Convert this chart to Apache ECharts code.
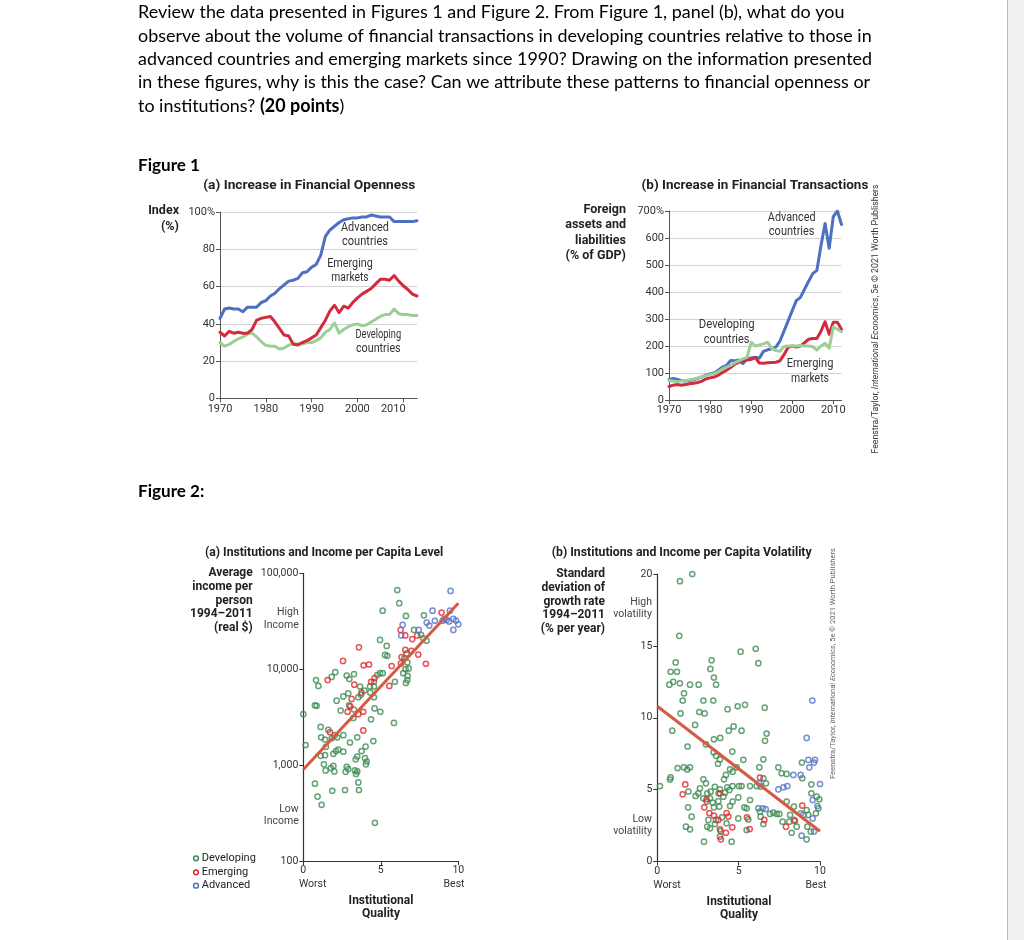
<!DOCTYPE html>
<html><head><meta charset="utf-8">
<script src="https://cdn.jsdelivr.net/npm/echarts@6/dist/echarts.min.js"></script>
<style>html,body{margin:0;padding:0;background:#fff}#c{width:1024px;height:940px}</style>
</head><body><div id="c"></div>
<script>
// ---------------- DATA ----------------
const decadeTicks = [1970, 1980, 1990, 2000, 2010];
const years1a = [1970,1971,1972,1973,1974,1975,1976,1977,1978,1979,1980,1981,1982,1983,1984,1985,1986,1987,1988,1989,1990,1991,1992,1993,1994,1995,1996,1997,1998,1999,2000,2001,2002,2003,2004,2005,2006,2007,2008,2009,2010,2011,2012,2013];
const openAdvanced = [43,48,48.5,48,48,46.5,49,49,49,51.5, 52.5,55,56.5,59,61,63,63.5,64.5,67.5,68, 70.5,72,77,87,90.5,92.5,94.5,96,96.5,97, 97,97.5,97.5,98.5,98,97.5,97.5,97.5,95,95, 95,95,95,95.5];
const openEmerging = [35.5,33.5,36,35,35.5,35,35,37,42,43, 43.5,44,41,37.5,34,33.5,29,28.7,30,31, 32.5,34,38,42,47,50,46,49.5,48.5,51.5, 54,56,57.5,59,61.5,64,64,63.5,66,63, 60.5,58.5,56,55];
const openDeveloping = [30,28,29,30.5,32,33,34.5,35,33,30.5, 28.5,28,28,26.5,27,28.5,29.5,29.2,29.2,30, 30,31,32.5,35.5,37,40.5,35,37,38.5,39.5, 40,39,39.5,41,42.5,44,45,45,48,45.5, 45,45,44.5,44.5];

const years1b = [1970,1971,1972,1973,1974,1975,1976,1977,1978,1979,1980,1981,1982,1983,1984,1985,1986,1987,1988,1989,1990,1991,1992,1993,1994,1995,1996,1997,1998,1999,2000,2001,2002,2003,2004,2005,2006,2007,2008,2009,2010,2011,2012];
const transAdvanced = [76,80,76,72,70,72,75,80,86,92, 97,100,110,122,128,146,145,148,135,152, 156,158,155,180,186,190,196,218,255,293, 331,368,380,410,440,468,480,571,654,562, 679,700,650];
const transEmerging = [50,55,57,55,57,60,62,65,70,78, 82,85,92,102,110,120,133,140,145,148, 150,157,137,136,138,139,140,145,168,195, 200,196,200,212,225,228,228,255,290,243, 288,288,262];
const transDeveloping = [72,70,68,70,72,75,78,82,86,90, 95,97,105,115,122,128,138,145,152,158, 214,200,204,208,214,192,183,180,198,200, 200,200,202,200,200,198,185,200,210,192, 270,262,253];

// Figure 2 (a): [institutional quality, income per person (real $)]
const levelDeveloping = [[6.06,67000],[6.19,48800],[5.12,40800],[6.62,35900],[7.78,36500],
 [7.14,25700],[7.59,22800],[7.74,21000],[7.96,19800],[4.95,20200],[5.38,17500],
 [5.27,14100],[5.42,13800],[6.67,14600],[6.52,13000],[6.71,11800],[6.60,10000],[6.80,10200],[6.45,9100],[6.73,8500],[6.71,7700],[6.62,7200],
 [2.06,9300],[1.83,8300],[0.82,7700],[0.97,6700],[2.80,8600],[2.97,7900],[3.27,8900],[4.77,8700],[4.95,9100],[5.12,9100],
 [4.56,7400],[4.30,6600],[4.56,6600],[3.66,6600],[5.91,7400],[3.94,6000],[3.72,5400],[2.90,5600],[2.58,5200],[4.56,5100],[4.32,5700],[3.55,5100],
 [2.15,4700],[0.75,4200],[0.86,4150],[2.95,4200],[2.41,3700],[3.27,3800],[4.60,3900],[4.97,3600],[3.23,3100],[0.0,3400],[4.37,3000],[5.85,2750],
 [1.12,2500],[1.61,2330],[1.15,1950],[1.40,1850],[1.83,1900],[2.19,1950],[1.46,1550],[0.15,1620],[2.04,2050],[2.58,2050],[3.01,1720],[3.48,1950],[4.52,1780],[4.02,1560],
 [3.76,1400],[2.11,1400],[2.26,1450],[2.58,1380],[1.12,1250],[1.40,1270],[1.94,1310],[3.48,1230],[3.38,1150],[3.98,1180],[4.09,1090],[4.04,1020],
 [1.33,1020],[1.94,980],[1.78,930],[1.44,880],[2.00,860],[2.80,960],[2.90,910],[2.73,850],[3.33,880],[3.48,860],[3.40,810],
 [3.55,660],[0.75,640],[1.87,540],[2.69,550],[3.59,550],[0.92,470],[1.18,385],[4.62,250]];
const levelEmerging = [[8.92,38900],[6.28,25700],[6.58,22500],[7.03,20600],[7.35,22500],[3.59,16900],[6.58,15900],[6.97,15500],[7.42,14200],[6.34,13400],
 [7.91,11400],[5.70,10800],[6.30,11500],[4.24,11200],[3.89,11000],[2.56,12200],[1.57,7700],[4.37,7400],[4.60,8100],[3.29,6900],[5.55,6700],
 [3.76,5700],[3.12,4900],[3.03,4100],[2.86,3600],[3.55,3400],[3.87,3600],[1.72,2200],[3.87,2300]];
const levelAdvanced = [[6.41,29000],[6.32,22500],[7.44,25700],[7.96,30700],[8.13,28500],[8.49,32000],[8.99,32000],[9.25,32700],[9.68,33400],
 [9.85,32200],[10.0,29400],[9.68,25700],[8.34,40800],[9.46,40800],[9.5,65500],[9.1,33500],[9.4,31500]];
const levelFit = [[0, 900], [10, 48700]];

// Figure 2 (b): [institutional quality, std. dev. of growth rate (% per year)]
const volDeveloping = [[2.15,20.0],[1.39,19.5],[1.35,15.7],[1.13,13.85],[0.82,13.2],[1.21,13.2],[0.74,12.3],[0.98,12.5],[1.39,12.4],[1.64,11.7],[1.56,11.2],
 [2.01,12.3],[2.54,12.3],[1.43,10.3],[0.92,9.1],[2.32,9.5],[2.58,10.4],[2.91,10.3],[2.83,11.2],[3.34,14.0],[3.26,13.4],[3.48,12.8],[3.61,12.3],[3.44,11.2],
 [5.12,14.6],[6.05,14.8],[6.21,13.8],[4.32,10.6],[4.94,10.8],[5.39,10.9],[6.60,10.7],[4.39,9.1],[4.69,9.4],[5.18,9.1],[6.72,8.9],[3.48,8.5],[3.87,8.6],
 [1.86,8.0],[4.61,7.65],[3.46,7.6],[3.61,7.35],[3.85,7.1],[3.73,6.8],[2.99,8.15],[6.62,8.4],[1.25,6.5],[1.64,6.55],[1.84,6.4],[2.01,6.55],
 [0.78,5.7],[0.82,5.85],[0.16,5.25],[1.91,4.87],[1.89,3.77],[2.11,3.12],[1.76,2.42],[2.01,2.24],[2.87,1.38],[2.83,5.72],[2.99,5.44],[2.62,5.09],
 [2.36,4.56],[2.52,4.74],[2.83,4.4],[3.07,4.74],[3.24,4.4],[3.28,4.86],[3.54,5.2],[3.85,5.02],[3.77,4.74],[3.03,4.17],[3.40,4.1],[3.75,4.2],
 [3.48,3.77],[3.81,3.82],[4.06,4.51],[4.16,4.79],[4.30,5.16],[4.43,4.98],[4.63,5.25],[4.47,3.86],[4.63,4.17],[4.98,4.46],[5.02,5.25],[4.10,5.72],
 [4.22,6.02],[4.47,6.41],[4.63,6.25],[4.88,6.55],[5.18,5.25],[5.49,3.70],[5.35,3.77],[5.70,4.28],[5.59,2.93],[4.98,3.0],[4.26,2.66],[3.98,3.07],
 [3.61,2.89],[3.54,2.61],[3.14,2.89],[3.07,2.42],[3.24,2.31],[3.89,2.12],[4.57,1.38],[5.49,2.19],[6.35,5.21],[6.52,5.79],[6.68,5.44],[6.27,6.55],
 [6.11,5.25],[5.70,5.25],[6.21,3.70],[6.31,3.47],[6.35,3.12],[6.52,2.61],[6.93,3.31],[7.13,3.4],[7.34,3.31],[7.50,3.31],[7.70,2.77],[8.11,2.77],
 [8.26,2.0],[8.40,2.89],[8.83,3.35],[8.40,3.82],[7.95,4.17],[7.44,6.55],[7.64,6.14],[7.95,6.09],[8.91,5.79],[8.89,6.88],[9.47,5.37],[9.47,4.74],
 [9.80,4.51],[9.18,3.58],[9.28,3.24],[9.75,3.35],[9.90,3.70],[9.22,2.42],[9.18,1.54],[9.43,2.08],[5.29,7.07],[6.52,7.11],[8.16,3.24],[8.57,2.42],
 [9.96,4.33],[3.85,1.73]];
const volEmerging = [[1.72,5.36],[1.56,4.67],[3.03,4.33],[2.89,3.77],[3.20,3.37],[3.48,3.2],[3.85,4.74],[3.85,2.24],[3.91,1.54],[4.26,3.37],[4.37,3.13],
 [4.22,2.0],[4.61,2.38],[5.51,3.07],[5.68,2.26],[6.31,5.84],[6.58,2.89],[7.91,2.42],[8.46,2.82],[8.91,3.89],[3.75,2.89]];
const volAdvanced = [[9.53,11.2],[9.18,8.6],[9.28,7.07],[9.69,7.07],[9.34,6.55],[9.63,6.88],[8.36,6.02],[8.81,6.02],[7.44,5.02],[7.75,5.16],[7.99,5.25],
 [6.27,5.44],[6.48,3.70],[6.66,3.65],[9.55,4.28],[10.0,5.39],[8.97,3.24],[9.55,3.00],[9.84,3.86],[8.87,1.80],[9.63,2.08]];
const volFit = [[0, 10.8], [10, 2.1]];

// ---------------- STYLE / HELPERS ----------------
const CF = 'Roboto, "Noto Sans", sans-serif';
const DF = 'Lato, "Open Sans", sans-serif';
const C_BLUE = '#4e70c2', C_RED = '#d42a3d', C_GREEN = '#9ccf95';
const S_GREEN = '#3f8b54', S_RED = '#e5262b', S_BLUE = '#5572c6', FIT = '#d45a43';

const mctx = document.createElement('canvas').getContext('2d');
function fontStr(size, family, weight, fstyle) { return (fstyle || 'normal') + ' ' + (weight || 'normal') + ' ' + size + 'px ' + family; }
function tw(text, size, family, weight, fstyle) { mctx.font = fontStr(size, family, weight, fstyle); return mctx.measureText(text).width; }
function T(x, y, text, o) {
  o = o || {};
  const size = o.size || 11, family = o.family || CF, weight = o.bold ? 'bold' : 'normal';
  let sx = o.sx || 1;
  if (o.w) sx = o.w / tw(o.plain || text, size, family, weight);
  const al = o.align || 'left', va = o.va || 'middle';
  const st = { text: text, fill: o.color || '#222', font: fontStr(size, family, weight), fontSize: size, fontFamily: family, fontWeight: weight,
    align: al, verticalAlign: va, textAlign: al, textVerticalAlign: va };
  if (o.rich) st.rich = o.rich;
  return { type: 'text', x: x, y: y, scaleX: sx, rotation: o.rot || 0, silent: true, z: 100, style: st };
}
function lines(x, ys, arr, o) { return arr.map((t, i) => T(x, ys[i], t, Object.assign({}, o, o.ws ? { w: o.ws[i] } : {}))); }

const els = [];
// page edge
els.push({ type: 'rect', shape: { x: 1007, y: 0, width: 17, height: 940 }, style: { fill: '#f0f0f0' }, silent: true });
els.push({ type: 'line', shape: { x1: 1007.5, y1: 0, x2: 1007.5, y2: 940 }, style: { stroke: '#b8b8b8', lineWidth: 1 }, silent: true });

// question text
const para = [
  'Review the data presented in Figures 1 and Figure 2. From Figure 1, panel (b), what do you',
  'observe about the volume of financial transactions in developing countries relative to those in',
  'advanced countries and emerging markets since 1990? Drawing on the information presented',
  'in these figures, why is this the case? Can we attribute these patterns to financial openness or'
];
const paraTargets = [710, 735, 738, 723];
const PS = 18;
let sSum = 0; para.forEach((t, i) => { sSum += paraTargets[i] / tw(t, PS, DF); });
const ps = sSum / para.length;
para.forEach((t, i) => els.push(T(138, 12.5 + 23.3 * i, t, { size: PS, family: DF, color: '#000', sx: ps })));
els.push(T(138, 12.5 + 23.3 * 4, 'to institutions? {b|(20 points})', { size: PS, family: DF, color: '#000', sx: ps,
  rich: { b: { font: fontStr(PS, DF, 'bold'), fontSize: PS, fontFamily: DF, fontWeight: 'bold', fill: '#000' } } }));

const figScale = 62 / tw('Figure 1', 17, DF, 'bold');
els.push(T(138, 165.7, 'Figure 1', { size: 17, family: DF, bold: true, color: '#000', sx: figScale }));
els.push(T(138, 492, 'Figure 2:', { size: 17, family: DF, bold: true, color: '#000', sx: figScale }));

// Figure 1 (a)
els.push(T(203.3, 186, '(a) Increase in Financial Openness', { size: 13, bold: true, w: 212 }));
els.push(...lines(179, [211, 227], ['Index', '(%)'], { size: 12.5, bold: true, align: 'right' }));
els.push(...lines(365, [228.3, 242], ['Advanced', 'countries'], { size: 12.5, align: 'center', color: '#333', ws: [48, 46] }));
els.push(...lines(350, [264, 278.3], ['Emerging', 'markets'], { size: 12.5, align: 'center', color: '#333', ws: [45.7, 37.3] }));
els.push(...lines(378.3, [335, 349.3], ['Developing', 'countries'], { size: 12.5, align: 'center', color: '#333', ws: [45.7, 44.7] }));

// Figure 1 (b)
els.push(T(868.3, 186, '(b) Increase in Financial Transactions', { size: 13, bold: true, w: 226.7, align: 'right' }));
els.push(...lines(626, [210, 225, 240.7, 256], ['Foreign', 'assets and', 'liabilities', '(% of GDP)'], { size: 12.5, bold: true, align: 'right' }));
els.push(...lines(791.7, [217.7, 232], ['Advanced', 'countries'], { size: 12.5, align: 'center', color: '#333', ws: [47.7, 45.7] }));
els.push(...lines(726.7, [325, 340], ['Developing', 'countries'], { size: 12.5, align: 'center', color: '#333', ws: [55.7, 45.7] }));
els.push(...lines(810, [364.3, 379], ['Emerging', 'markets'], { size: 12.5, align: 'center', color: '#333', ws: [46.7, 38] }));

const attrib = 'Feenstra/Taylor, {i|International Economics}, 5e \u00a9 2021 Worth Publishers';
const attribPlain = 'Feenstra/Taylor, International Economics, 5e \u00a9 2021 Worth Publishers';
els.push(T(876, 319, attrib, { size: 9.5, color: '#333', align: 'center', rot: Math.PI / 2, w: 272, plain: attribPlain,
  rich: { i: { font: fontStr(9.5, CF, 'normal', 'italic'), fontStyle: 'italic', fontSize: 9.5, fontFamily: CF, fill: '#333' } } }));

// Figure 2 (a)
els.push(T(205, 552.7, '(a) Institutions and Income per Capita Level', { size: 13, bold: true, w: 238.3 }));
els.push(...lines(252.7, [573.3, 587, 600.7, 614, 628.3], ['Average', 'income per', 'person', '1994\u20132011', '(real $)'], { size: 12, bold: true, align: 'right' }));
els.push(...lines(298.7, [612.7, 625], ['High', 'Income'], { size: 10.5, align: 'right', color: '#444' }));
els.push(...lines(298.7, [809, 821], ['Low', 'Income'], { size: 10.5, align: 'right', color: '#444' }));
els.push(T(312.7, 884.3, 'Worst', { size: 10.5, align: 'center', color: '#333' }));
els.push(T(454, 884.3, 'Best', { size: 10.5, align: 'center', color: '#333' }));
els.push(...lines(381, [900.7, 914.3], ['Institutional', 'Quality'], { size: 12, bold: true, align: 'center' }));
const legendItems = [['Developing', S_GREEN, 858.3], ['Emerging', S_RED, 872.3], ['Advanced', S_BLUE, 885.7]];
legendItems.forEach(it => {
  els.push({ type: 'circle', shape: { cx: 196, cy: it[2], r: 2.4 }, style: { fill: 'none', stroke: it[1], lineWidth: 1.5 }, silent: true, z: 100 });
  els.push(T(201.7, it[2], it[0], { size: 11, color: '#222' }));
});

// Figure 2 (b)
els.push(T(551.7, 552.7, '(b) Institutions and Income per Capita Volatility', { size: 13, bold: true, w: 260 }));
els.push(...lines(605, [574, 588, 602, 615, 629], ['Standard', 'deviation of', 'growth rate', '1994\u20132011', '(% per year)'], { size: 12, bold: true, align: 'right' }));
els.push(...lines(652, [602, 614.3], ['High', 'volatility'], { size: 10.5, align: 'right', color: '#444' }));
els.push(...lines(652, [819, 831], ['Low', 'volatility'], { size: 10.5, align: 'right', color: '#444' }));
els.push(T(667, 885, 'Worst', { size: 10.5, align: 'center', color: '#333' }));
els.push(T(816, 885, 'Best', { size: 10.5, align: 'center', color: '#333' }));
els.push(...lines(739, [901.7, 915], ['Institutional', 'Quality'], { size: 12, bold: true, align: 'center' }));
els.push(T(832.5, 663.5, attrib, { size: 8, color: '#666', align: 'center', rot: Math.PI / 2, w: 233, plain: attribPlain,
  rich: { i: { font: fontStr(8, CF, 'normal', 'italic'), fontStyle: 'italic', fontSize: 8, fontFamily: CF, fill: '#666' } } }));

// ---------------- AXES ----------------
const lab = (size, margin) => ({ fontSize: size, color: '#333', fontFamily: CF, margin: margin });
function yearAxis(gi, max, shift) {
  return { gridIndex: gi, type: 'value', min: 1970, max: max,
    axisLine: { show: true, lineStyle: { color: '#555', width: 1 } },
    axisTick: { show: true, customValues: decadeTicks, length: 4, lineStyle: { color: '#555' } },
    axisLabel: Object.assign(lab(11, 5), { customValues: decadeTicks,
      formatter: v => (shift && v === 2010) ? '{s|2010}' : String(v),
      rich: { s: { fontSize: 11, color: '#333', fontFamily: CF, padding: [0, shift || 0, 0, 0] } } }),
    splitLine: { show: false } };
}
function pctAxis(gi, max, interval) {
  return { gridIndex: gi, type: 'value', min: 0, max: max, interval: interval,
    axisLine: { show: true, lineStyle: { color: '#555', width: 1 } },
    axisTick: { show: true, length: 4, lineStyle: { color: '#555' } },
    axisLabel: Object.assign(lab(11, 5), { formatter: v => v === max ? v + '%' : String(v) }),
    splitLine: { show: true, lineStyle: { color: '#d2d2d2', width: 1 } } };
}
function qualAxis(gi) {
  return { gridIndex: gi, type: 'value', min: 0, max: 10, interval: 5,
    axisLine: { show: true, lineStyle: { color: '#333', width: 1.2 } },
    axisTick: { show: true, length: 4, lineStyle: { color: '#333' } },
    axisLabel: lab(10.5, 4), splitLine: { show: false } };
}

const option = {
  animation: false,
  backgroundColor: '#ffffff',
  textStyle: { fontFamily: CF },
  grid: [
    { left: 220, top: 212.3, width: 197, height: 186 },
    { left: 669, top: 211, width: 172.5, height: 189 },
    { left: 303.3, top: 573.3, width: 155, height: 287.7 },
    { left: 657.3, top: 574, width: 162.7, height: 287.5 }
  ],
  xAxis: [yearAxis(0, 2013, 20), yearAxis(1, 2012, 0), qualAxis(2), qualAxis(3)],
  yAxis: [
    pctAxis(0, 100, 20),
    pctAxis(1, 700, 100),
    { gridIndex: 2, type: 'log', logBase: 10, min: 100, max: 100000,
      axisLine: { show: true, lineStyle: { color: '#333', width: 1.2 } },
      axisTick: { show: true, length: 4, lineStyle: { color: '#333' } },
      axisLabel: Object.assign(lab(10.5, 5), { formatter: v => Math.round(v).toLocaleString('en-US') }),
      splitLine: { show: false }, minorTick: { show: false } },
    { gridIndex: 3, type: 'value', min: 0, max: 20, interval: 5,
      axisLine: { show: true, lineStyle: { color: '#333', width: 1.2 } },
      axisTick: { show: true, length: 4, lineStyle: { color: '#333' } },
      axisLabel: lab(10.5, 5), splitLine: { show: false } }
  ],
  graphic: { elements: els },
  series: []
};

function lineS(gi, years, vals, color, name, z) {
  return { type: 'line', name: name, xAxisIndex: gi, yAxisIndex: gi, data: years.map((y, i) => [y, vals[i]]),
    symbol: 'none', showSymbol: false, lineStyle: { color: color, width: 3, join: 'round', cap: 'round' },
    itemStyle: { color: color }, z: z, silent: true };
}
function scat(gi, data, color, name) {
  return { type: 'scatter', name: name, xAxisIndex: gi, yAxisIndex: gi, data: data, symbol: 'circle', symbolSize: 5.2,
    itemStyle: { color: 'rgba(255,255,255,0)', borderColor: color, borderWidth: 1.5 }, silent: true, z: 3 };
}
function fitS(gi, data) {
  return { type: 'line', xAxisIndex: gi, yAxisIndex: gi, data: data, symbol: 'none', showSymbol: false,
    lineStyle: { color: FIT, width: 3 }, silent: true, z: 6 };
}
option.series.push(
  lineS(0, years1a, openDeveloping, C_GREEN, 'Developing countries', 2),
  lineS(0, years1a, openEmerging, C_RED, 'Emerging markets', 3),
  lineS(0, years1a, openAdvanced, C_BLUE, 'Advanced countries', 4),
  lineS(1, years1b, transAdvanced, C_BLUE, 'Advanced countries', 2),
  lineS(1, years1b, transEmerging, C_RED, 'Emerging markets', 3),
  lineS(1, years1b, transDeveloping, C_GREEN, 'Developing countries', 4),
  scat(2, levelDeveloping, S_GREEN, 'Developing'),
  scat(2, levelEmerging, S_RED, 'Emerging'),
  scat(2, levelAdvanced, S_BLUE, 'Advanced'),
  fitS(2, levelFit),
  scat(3, volDeveloping, S_GREEN, 'Developing'),
  scat(3, volEmerging, S_RED, 'Emerging'),
  scat(3, volAdvanced, S_BLUE, 'Advanced'),
  fitS(3, volFit)
);

const chart = echarts.init(document.getElementById('c'), null, { renderer: 'canvas', width: 1024, height: 940 });
chart.setOption(option);
</script>
</body></html>
